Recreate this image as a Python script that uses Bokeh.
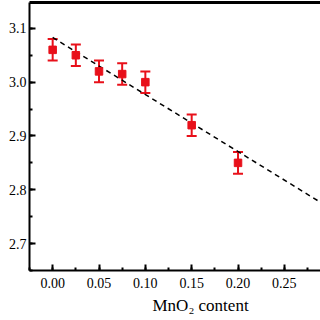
from bokeh.plotting import figure
from bokeh.models import (Range1d, SingleIntervalTicker, NumeralTickFormatter,
                          LinearAxis, Whisker, ColumnDataSource, Title,
                          FixedTicker)
from bokeh.embed import file_html
from bokeh.resources import INLINE

# MnO2 content vs measured value, with error bars
content = [0.0, 0.025, 0.05, 0.075, 0.10, 0.15, 0.20]
values = [3.06, 3.05, 3.02, 3.015, 3.00, 2.92, 2.85]
errors = [0.02, 0.02, 0.02, 0.02, 0.02, 0.02, 0.02]

# linear trend line endpoints
fit_x = [0.0, 0.30]
fit_y = [3.083, 2.765]

FONT = "Liberation Serif"
RED = "#e8101a"

p = figure(width=320, height=320, output_backend="svg", toolbar_location=None,
           x_range=Range1d(-0.025, 0.289), y_range=Range1d(2.65, 3.148),
           min_border_left=29, min_border_right=0, min_border_top=2,
           min_border_bottom=50)
p.outline_line_color = None
p.grid.visible = False
p.background_fill_color = "white"

src = ColumnDataSource(dict(
    x=content, y=values,
    lo=[v - e for v, e in zip(values, errors)],
    hi=[v + e for v, e in zip(values, errors)],
))

p.line(fit_x, fit_y, line_color="black", line_width=1.5, line_dash="5 4")

w = Whisker(source=src, base="x", lower="lo", upper="hi",
            line_color=RED, line_width=2)
for head in (w.upper_head, w.lower_head):
    head.size = 10
    head.line_color = RED
    head.line_width = 2
p.add_layout(w)
p.scatter("x", "y", source=src, marker="square", size=7.5,
          fill_color=RED, line_color=RED)

for ax in (p.xaxis[0], p.yaxis[0]):
    ax.axis_line_width = 2
    ax.axis_line_color = "black"
    ax.major_tick_in = 6
    ax.major_tick_out = 0
    ax.minor_tick_in = 3
    ax.minor_tick_out = 0
    ax.major_tick_line_width = 2
    ax.minor_tick_line_width = 2
    ax.major_label_text_font = FONT
    ax.major_label_text_font_size = "14px"
    ax.major_label_text_color = "black"

p.xaxis.ticker = SingleIntervalTicker(interval=0.05, num_minor_ticks=2)
p.xaxis.formatter = NumeralTickFormatter(format="0.00")
p.xaxis.major_label_standoff = 7
p.yaxis.ticker = SingleIntervalTicker(interval=0.1, num_minor_ticks=2)
p.yaxis.formatter = NumeralTickFormatter(format="0.0")
p.yaxis.major_label_standoff = 3

# top border as a bare axis line
top = LinearAxis(ticker=FixedTicker(ticks=[]), major_tick_in=0,
                 major_tick_out=0, minor_tick_in=0, minor_tick_out=0,
                 axis_line_width=3)
p.add_layout(top, "above")

# x-axis title, placed under the axis
p.add_layout(Title(text="MnO\u2082 content", text_font=FONT,
                   text_font_size="17px", text_font_style="normal",
                   text_color="black", align="left", offset=123,
                   standoff=7), "below")

open("out.html", "w").write(file_html(p, INLINE))
